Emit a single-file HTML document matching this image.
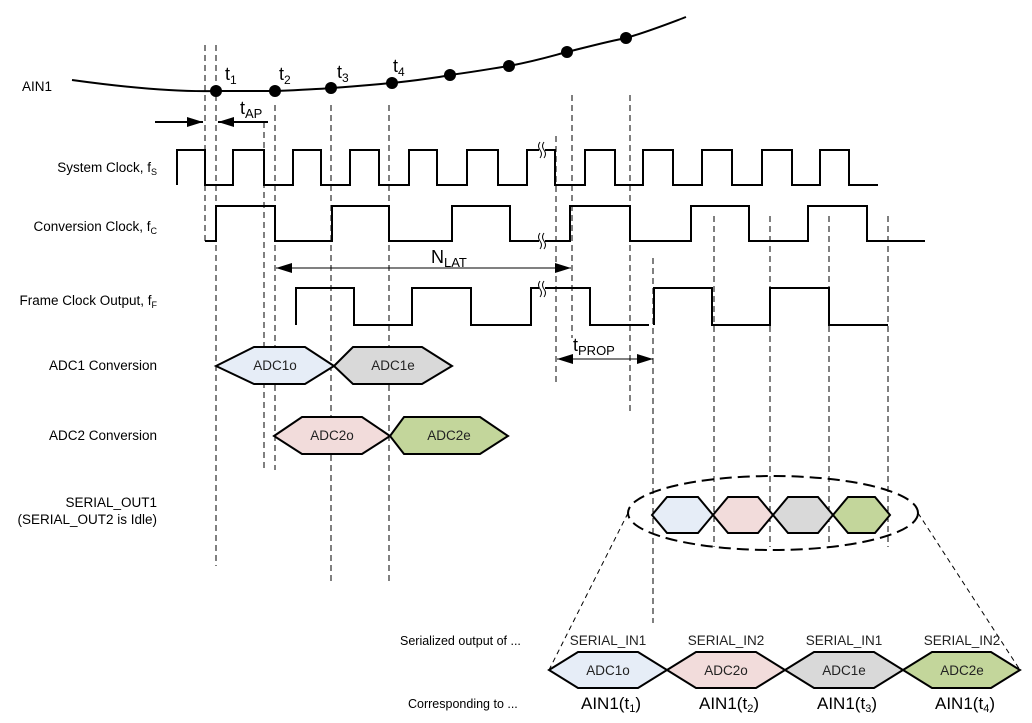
<!DOCTYPE html>
<html><head><meta charset="utf-8"><style>
html,body{margin:0;padding:0;background:#fff;}
svg{display:block;font-family:"Liberation Sans",Arial,sans-serif;}
</style></head><body>
<svg width="1032" height="723" viewBox="0 0 1032 723" xmlns="http://www.w3.org/2000/svg">
<defs>
<marker id="ar2" markerWidth="16" markerHeight="10" refX="16" refY="5" orient="auto" markerUnits="userSpaceOnUse"><path d="M0,0 L16,5 L0,10 Z" fill="#000"/></marker>
</defs>
<g font-size="13.5" fill="#000" text-anchor="end">
<text x="52" y="91">AIN1</text>
<text x="157" y="172">System Clock, f<tspan font-size="9" dy="3">S</tspan></text>
<text x="157" y="231">Conversion Clock, f<tspan font-size="9" dy="3">C</tspan></text>
<text x="157" y="305">Frame Clock Output, f<tspan font-size="9" dy="3">F</tspan></text>
<text x="157" y="370">ADC1 Conversion</text>
<text x="157" y="440">ADC2 Conversion</text>
<text x="157" y="507">SERIAL_OUT1</text>
<text x="157" y="524">(SERIAL_OUT2 is Idle)</text>
</g>
<g font-size="12.5" fill="#000">
<text x="400" y="645">Serialized output of ...</text>
<text x="408" y="708">Corresponding to ...</text>
</g>
<g stroke="#000" stroke-width="1" stroke-dasharray="6,4" fill="none">
<line x1="205" y1="45" x2="205" y2="242"/>
<line x1="216" y1="45" x2="216" y2="566"/>
<line x1="264" y1="122" x2="264" y2="470"/>
<line x1="275" y1="105" x2="275" y2="470"/>
<line x1="331" y1="105" x2="331" y2="585"/>
<line x1="389" y1="105" x2="389" y2="585"/>
<line x1="556" y1="136" x2="556" y2="385"/>
<line x1="572" y1="95" x2="572" y2="338"/>
<line x1="630" y1="95" x2="630" y2="415"/>
<line x1="653" y1="258" x2="653" y2="623"/>
<line x1="714" y1="216" x2="714" y2="547"/>
<line x1="770" y1="216" x2="770" y2="547"/>
<line x1="829" y1="216" x2="829" y2="547"/>
<line x1="888" y1="216" x2="888" y2="547"/>
</g>
<path d="M72,80 C130,88 180,92 216,91 L275,91 C300,90 320,89 331,88 C360,86 380,84 392,83 C420,80 440,77 450,75 C480,71 495,68 509,66 C540,60 555,55 567,52 C595,45 610,41 626,38 C650,31 670,23 686,17" stroke="#000" stroke-width="2" fill="none"/>
<g fill="#000">
<circle cx="216" cy="91" r="6"/><circle cx="275" cy="91" r="6"/><circle cx="331" cy="88" r="6"/><circle cx="392" cy="83" r="6"/><circle cx="450" cy="75" r="6"/><circle cx="509" cy="66" r="6"/><circle cx="567" cy="52" r="6"/><circle cx="626" cy="38" r="6"/>
</g>
<g font-size="18" fill="#000">
<text x="225" y="80">t<tspan font-size="12" dy="4">1</tspan></text>
<text x="279" y="80">t<tspan font-size="12" dy="4">2</tspan></text>
<text x="337" y="78">t<tspan font-size="12" dy="4">3</tspan></text>
<text x="393" y="72">t<tspan font-size="12" dy="4">4</tspan></text>
<text x="240" y="114">t<tspan font-size="13" dy="4">AP</tspan></text>
<text x="431" y="263">N<tspan font-size="13" dy="4">LAT</tspan></text>
<text x="573" y="351">t<tspan font-size="13" dy="4">PROP</tspan></text>
</g>
<line x1="155" y1="122" x2="203" y2="122" stroke="#000" stroke-width="2" marker-end="url(#ar2)"/>
<line x1="268" y1="122" x2="218" y2="122" stroke="#000" stroke-width="2" marker-end="url(#ar2)"/>
<line x1="560" y1="268" x2="276" y2="268" stroke="#000" stroke-width="1" marker-end="url(#ar2)"/>
<line x1="290" y1="268" x2="571" y2="268" stroke="#000" stroke-width="1" marker-end="url(#ar2)"/>
<line x1="600" y1="359" x2="557" y2="359" stroke="#000" stroke-width="1" marker-end="url(#ar2)"/>
<line x1="580" y1="359" x2="653" y2="359" stroke="#000" stroke-width="1" marker-end="url(#ar2)"/>
<g stroke="#000" stroke-width="2" fill="none">
<polyline points="177,185 177,150 205,150 205,185 233,185 233,150 264,150 264,185 293,185 293,150 321,150 321,185 350,185 350,150 379,150 379,185 409,185 409,150 437,150 437,185 467,185 467,150 498,150 498,185 527,185 527,150 555,150 555,185 585,185 585,150 615,150 615,185 643,185 643,150 673,150 673,185 702,185 702,150 732,150 732,185 762,185 762,150 792,150 792,185 820,185 820,150 849,150 849,185 878,185"/>
<polyline points="205,241 216,241 216,206 275,206 275,241 332,241 332,206 389,206 389,241 452,241 452,206 510,206 510,241 570,241 570,206 630,206 630,241 691,241 691,206 749,206 749,241 808,241 808,206 867,206 867,241 925,241"/>
<polyline points="296,325 296,288 354,288 354,325 412,325 412,288 471,288 471,325 531,325 531,288 590,288 590,325 649,325"/>
<polyline points="654,325 654,288 712,288 712,325 770,325 770,288 829,288 829,325 888,325"/>
</g>
<g stroke="#000" stroke-width="1" fill="#fff">
<rect x="539" y="141" width="6" height="18" stroke="none"/>
<rect x="539" y="232" width="6" height="18" stroke="none"/>
<rect x="539" y="280" width="6" height="18" stroke="none"/>
<path d="M540,142 q-3,4 0,8 q3,4 0,8 M544,142 q-3,4 0,8 q3,4 0,8" fill="none"/>
<path d="M540,233 q-3,4 0,8 q3,4 0,8 M544,233 q-3,4 0,8 q3,4 0,8" fill="none"/>
<path d="M540,281 q-3,4 0,8 q3,4 0,8 M544,281 q-3,4 0,8 q3,4 0,8" fill="none"/>
</g>
<g stroke="#000" stroke-width="2">
<polygon points="216,366 254,347 305,347 334,366 305,384 254,384" fill="#e6edf7"/>
<polygon points="334,366 353,347 422,347 452,366 422,384 353,384" fill="#d9d9d9"/>
<polygon points="274,436 302,417 362,417 390,436 362,454 302,454" fill="#f2dcdb"/>
<polygon points="390,436 404,417 480,417 508,436 480,454 404,454" fill="#c3d69b"/>
</g>
<g font-size="13.5" fill="#222" text-anchor="middle">
<text x="275" y="370">ADC1o</text><text x="393" y="370">ADC1e</text>
<text x="332" y="440">ADC2o</text><text x="449" y="440">ADC2e</text>
</g>
<g stroke="#000" stroke-width="2">
<polygon points="652,515 667,497 698,497 713,515 698,533 667,533" fill="#e6edf7"/>
<polygon points="713,515 728,497 758,497 773,515 758,533 728,533" fill="#f2dcdb"/>
<polygon points="773,515 788,497 818,497 833,515 818,533 788,533" fill="#d9d9d9"/>
<polygon points="833,515 848,497 875,497 890,515 875,533 848,533" fill="#c3d69b"/>
</g>
<ellipse cx="773" cy="513" rx="145" ry="37" stroke="#000" stroke-width="2" fill="none" stroke-dasharray="12,6"/>
<g stroke="#000" stroke-width="1" stroke-dasharray="5,4">
<line x1="628" y1="513" x2="549" y2="670"/>
<line x1="918" y1="513" x2="1020" y2="670"/>
</g>
<g stroke="#000" stroke-width="2">
<polygon points="549,670 578,652 638,652 667,670 638,688 578,688" fill="#e6edf7"/>
<polygon points="667,670 696,652 756,652 785,670 756,688 696,688" fill="#f2dcdb"/>
<polygon points="785,670 814,652 874,652 903,670 874,688 814,688" fill="#d9d9d9"/>
<polygon points="903,670 932,652 991,652 1020,670 991,688 932,688" fill="#c3d69b"/>
</g>
<g font-size="13.5" fill="#222" text-anchor="middle">
<text x="608" y="675">ADC1o</text><text x="726" y="675">ADC2o</text><text x="844" y="675">ADC1e</text><text x="962" y="675">ADC2e</text>
<text x="608" y="645">SERIAL_IN1</text><text x="726" y="645">SERIAL_IN2</text><text x="844" y="645">SERIAL_IN1</text><text x="962" y="645">SERIAL_IN2</text>
</g>
<g font-size="17" fill="#000" text-anchor="middle">
<text x="611" y="709">AIN1(t<tspan font-size="11" dy="3">1</tspan><tspan dy="-3">)</tspan></text>
<text x="729" y="709">AIN1(t<tspan font-size="11" dy="3">2</tspan><tspan dy="-3">)</tspan></text>
<text x="847" y="709">AIN1(t<tspan font-size="11" dy="3">3</tspan><tspan dy="-3">)</tspan></text>
<text x="965" y="709">AIN1(t<tspan font-size="11" dy="3">4</tspan><tspan dy="-3">)</tspan></text>
</g>
</svg>
</body></html>
